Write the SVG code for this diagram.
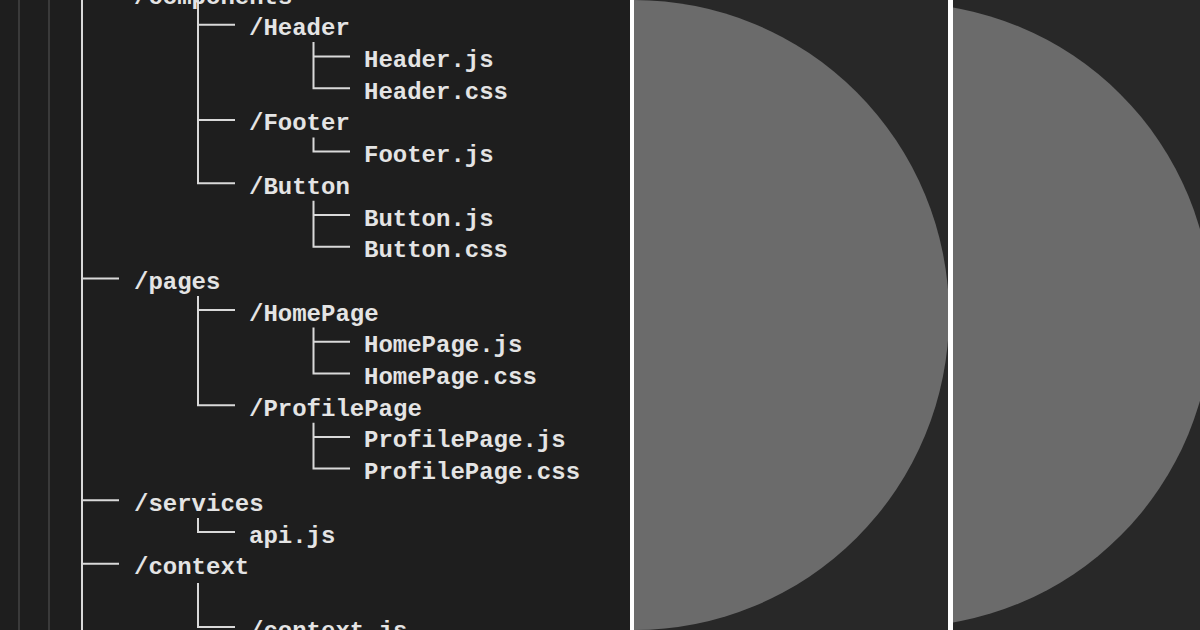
<svg xmlns="http://www.w3.org/2000/svg" width="1200" height="630" viewBox="0 0 1200 630">
  <style>
    .t { font-family: "Liberation Mono", "DejaVu Sans Mono", monospace; font-size: 24px; font-weight: bold; fill: #e4e4e4; }
    .c { stroke: #d9d9d9; stroke-width: 2; fill: none; }
    .g { stroke: #3a3a3a; stroke-width: 2; }
  </style>
  <defs>
    <clipPath id="p2"><rect x="634" y="0" width="314" height="630"/></clipPath>
    <clipPath id="p3"><rect x="953" y="0" width="247" height="630"/></clipPath>
  </defs>
  <g id="background">
    <rect x="0" y="0" width="630" height="630" fill="#1e1e1e"/>
    <rect x="630" y="0" width="4" height="630" fill="#ffffff"/>
    <rect x="634" y="0" width="314" height="630" fill="#282828"/>
    <rect x="948" y="0" width="5" height="630" fill="#ffffff"/>
    <rect x="953" y="0" width="247" height="630" fill="#282828"/>
    <circle cx="634" cy="315" r="315" fill="#6b6b6b" clip-path="url(#p2)"/>
    <circle cx="900" cy="315" r="312" fill="#6b6b6b" clip-path="url(#p3)"/>
    <line class="g" x1="19" y1="0" x2="19" y2="630"/>
    <line class="g" x1="49" y1="0" x2="49" y2="630"/>
  </g>
  <g id="connectors">
    <!-- level 1 -->
    <line class="c" x1="82" y1="0" x2="82" y2="630"/>
    <line class="c" x1="82" y1="278.4" x2="119" y2="278.4"/>
    <line class="c" x1="82" y1="500.3" x2="119" y2="500.3"/>
    <line class="c" x1="82" y1="563.7" x2="119" y2="563.7"/>
    <!-- components -->
    <polyline class="c" points="198,0 198,183.3 235,183.3"/>
    <line class="c" x1="198" y1="24.8" x2="235" y2="24.8"/>
    <line class="c" x1="198" y1="119.9" x2="235" y2="119.9"/>
    <!-- Header -->
    <polyline class="c" points="313.5,42 313.5,88.2 350,88.2"/>
    <line class="c" x1="313.5" y1="56.5" x2="350" y2="56.5"/>
    <!-- Footer -->
    <polyline class="c" points="313.5,137.4 313.5,151.6 350,151.6"/>
    <!-- Button -->
    <polyline class="c" points="313.5,200.8 313.5,246.7 350,246.7"/>
    <line class="c" x1="313.5" y1="215" x2="350" y2="215"/>
    <!-- pages -->
    <polyline class="c" points="198,296 198,405.2 235,405.2"/>
    <line class="c" x1="198" y1="310.1" x2="235" y2="310.1"/>
    <!-- HomePage -->
    <polyline class="c" points="313.5,327.6 313.5,373.5 350,373.5"/>
    <line class="c" x1="313.5" y1="341.8" x2="350" y2="341.8"/>
    <!-- ProfilePage -->
    <polyline class="c" points="313.5,422.7 313.5,468.6 350,468.6"/>
    <line class="c" x1="313.5" y1="436.9" x2="350" y2="436.9"/>
    <!-- services -->
    <polyline class="c" points="198,518 198,532 235,532"/>
    <!-- context -->
    <polyline class="c" points="198,583 198,627.1 235,627.1"/>
  </g>
  <g id="n-components"><text class="t" x="134" y="3.6">/components</text></g>
  <g id="n-header"><text class="t" x="249" y="35.3">/Header</text></g>
  <g id="n-header-js"><text class="t" x="364" y="67">Header.js</text></g>
  <g id="n-header-css"><text class="t" x="364" y="98.7">Header.css</text></g>
  <g id="n-footer"><text class="t" x="249" y="130.4">/Footer</text></g>
  <g id="n-footer-js"><text class="t" x="364" y="162.1">Footer.js</text></g>
  <g id="n-button"><text class="t" x="249" y="193.8">/Button</text></g>
  <g id="n-button-js"><text class="t" x="364" y="225.5">Button.js</text></g>
  <g id="n-button-css"><text class="t" x="364" y="257.2">Button.css</text></g>
  <g id="n-pages"><text class="t" x="134" y="288.9">/pages</text></g>
  <g id="n-homepage"><text class="t" x="249" y="320.6">/HomePage</text></g>
  <g id="n-homepage-js"><text class="t" x="364" y="352.3">HomePage.js</text></g>
  <g id="n-homepage-css"><text class="t" x="364" y="384">HomePage.css</text></g>
  <g id="n-profilepage"><text class="t" x="249" y="415.7">/ProfilePage</text></g>
  <g id="n-profilepage-js"><text class="t" x="364" y="447.4">ProfilePage.js</text></g>
  <g id="n-profilepage-css"><text class="t" x="364" y="479.1">ProfilePage.css</text></g>
  <g id="n-services"><text class="t" x="134" y="510.8">/services</text></g>
  <g id="n-api-js"><text class="t" x="249" y="542.5">api.js</text></g>
  <g id="n-context"><text class="t" x="134" y="574.2">/context</text></g>
  <g id="n-context-js"><text class="t" x="249" y="637.6">/context.js</text></g>
</svg>
